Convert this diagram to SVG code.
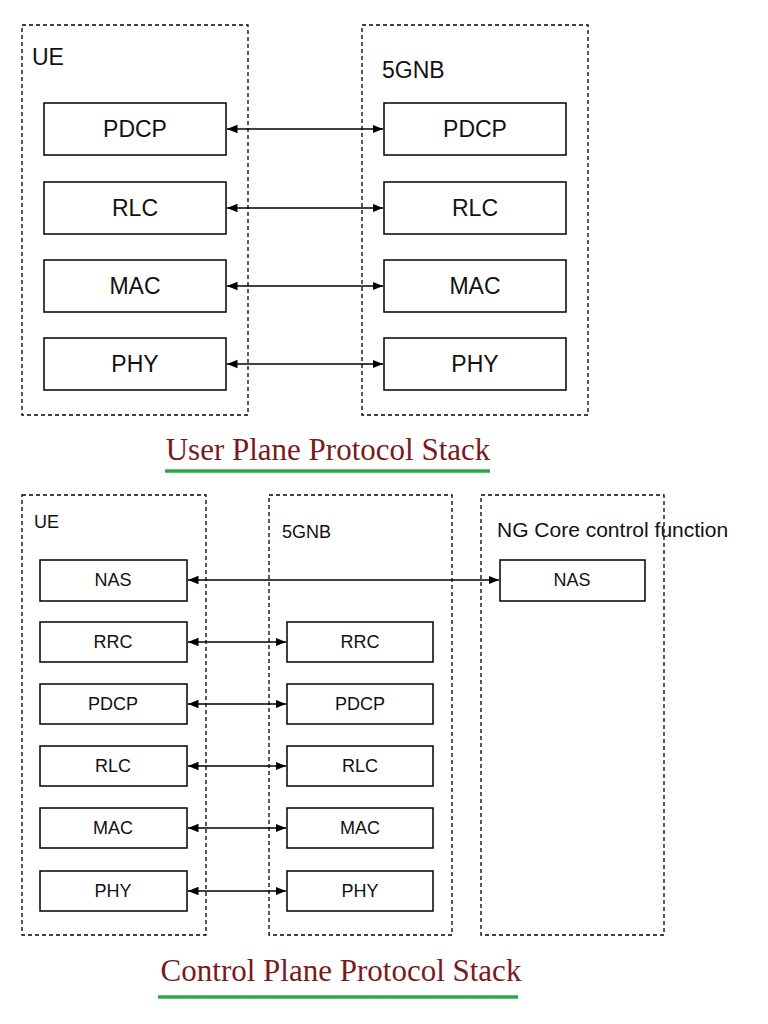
<svg xmlns="http://www.w3.org/2000/svg" width="768" height="1024" viewBox="0 0 768 1024">
<defs>
<marker id="a" viewBox="0 0 10 10" refX="10" refY="5" markerWidth="7" markerHeight="7" orient="auto-start-reverse"><path d="M0,1 L10,5 L0,9 z" fill="#000"/></marker>
</defs>
<style>
.c{fill:none;stroke:#000;stroke-width:1.3;stroke-dasharray:4,3}
.b{fill:#fff;stroke:#000;stroke-width:1.5}
.t{font-family:"Liberation Sans",Arial,sans-serif;fill:#111;text-anchor:middle}
.l{font-family:"Liberation Sans",Arial,sans-serif;fill:#111}
.h{font-family:"Liberation Serif","Times New Roman",serif;fill:#7a1a1a;text-anchor:middle;font-size:31px}
.k{stroke:#000;stroke-width:1.5;marker-start:url(#a);marker-end:url(#a)}
</style>
<rect width="768" height="1024" fill="#fff"/>
<g id="ue1"><rect class="c" x="22" y="25" width="226" height="390"/><text class="l" x="32" y="65" font-size="23">UE</text></g>
<g id="gnb1"><rect class="c" x="362" y="25" width="226" height="390"/><text class="l" x="382" y="78" font-size="23">5GNB</text></g>
<g id="up-ue">
<rect class="b" x="44" y="103" width="182" height="52"/><text class="t" x="135" y="137" font-size="23">PDCP</text>
<rect class="b" x="44" y="182" width="182" height="52"/><text class="t" x="135" y="216" font-size="23">RLC</text>
<rect class="b" x="44" y="260" width="182" height="52"/><text class="t" x="135" y="294" font-size="23">MAC</text>
<rect class="b" x="44" y="338" width="182" height="52"/><text class="t" x="135" y="372" font-size="23">PHY</text>
</g>
<g id="up-gnb">
<rect class="b" x="384" y="103" width="182" height="52"/><text class="t" x="475" y="137" font-size="23">PDCP</text>
<rect class="b" x="384" y="182" width="182" height="52"/><text class="t" x="475" y="216" font-size="23">RLC</text>
<rect class="b" x="384" y="260" width="182" height="52"/><text class="t" x="475" y="294" font-size="23">MAC</text>
<rect class="b" x="384" y="338" width="182" height="52"/><text class="t" x="475" y="372" font-size="23">PHY</text>
</g>
<g id="title1"><text class="h" x="328" y="460">User Plane Protocol Stack</text><line x1="165" y1="471" x2="490" y2="471" stroke="#2aa84a" stroke-width="3.5"/></g>
<g id="ue2"><rect class="c" x="22" y="495" width="184" height="440"/><text class="l" x="34" y="528" font-size="18">UE</text></g>
<g id="gnb2"><rect class="c" x="269" y="495" width="183" height="440"/><text class="l" x="282" y="538" font-size="18">5GNB</text></g>
<g id="core"><rect class="c" x="481" y="495" width="183" height="440"/><text class="l" x="497" y="537" font-size="21">NG Core control function</text></g>
<g id="cp-ue">
<rect class="b" x="40" y="560" width="147" height="41"/><text class="t" x="113" y="586" font-size="18">NAS</text>
<rect class="b" x="40" y="622" width="147" height="40"/><text class="t" x="113" y="648" font-size="18">RRC</text>
<rect class="b" x="40" y="684" width="147" height="40"/><text class="t" x="113" y="710" font-size="18">PDCP</text>
<rect class="b" x="40" y="746" width="147" height="40"/><text class="t" x="113" y="772" font-size="18">RLC</text>
<rect class="b" x="40" y="808" width="147" height="40"/><text class="t" x="113" y="834" font-size="18">MAC</text>
<rect class="b" x="40" y="871" width="147" height="40"/><text class="t" x="113" y="897" font-size="18">PHY</text>
</g>
<g id="cp-gnb">
<rect class="b" x="287" y="622" width="146" height="40"/><text class="t" x="360" y="648" font-size="18">RRC</text>
<rect class="b" x="287" y="684" width="146" height="40"/><text class="t" x="360" y="710" font-size="18">PDCP</text>
<rect class="b" x="287" y="746" width="146" height="40"/><text class="t" x="360" y="772" font-size="18">RLC</text>
<rect class="b" x="287" y="808" width="146" height="40"/><text class="t" x="360" y="834" font-size="18">MAC</text>
<rect class="b" x="287" y="871" width="146" height="40"/><text class="t" x="360" y="897" font-size="18">PHY</text>
</g>
<g id="cp-core"><rect class="b" x="500" y="560" width="145" height="41"/><text class="t" x="572" y="586" font-size="18">NAS</text></g>
<g id="title2"><text class="h" x="341" y="981">Control Plane Protocol Stack</text><line x1="158" y1="997" x2="518" y2="997" stroke="#2aa84a" stroke-width="3.5"/></g>
<g id="connectors">
<line class="k" x1="227" y1="129" x2="383" y2="129"/>
<line class="k" x1="227" y1="208" x2="383" y2="208"/>
<line class="k" x1="227" y1="286" x2="383" y2="286"/>
<line class="k" x1="227" y1="364" x2="383" y2="364"/>
<line class="k" x1="188" y1="580" x2="499" y2="580"/>
<line class="k" x1="188" y1="642" x2="286" y2="642"/>
<line class="k" x1="188" y1="704" x2="286" y2="704" stroke-width="1"/>
<line class="k" x1="188" y1="766" x2="286" y2="766"/>
<line class="k" x1="188" y1="828" x2="286" y2="828"/>
<line class="k" x1="188" y1="891" x2="286" y2="891"/>
</g>
</svg>
